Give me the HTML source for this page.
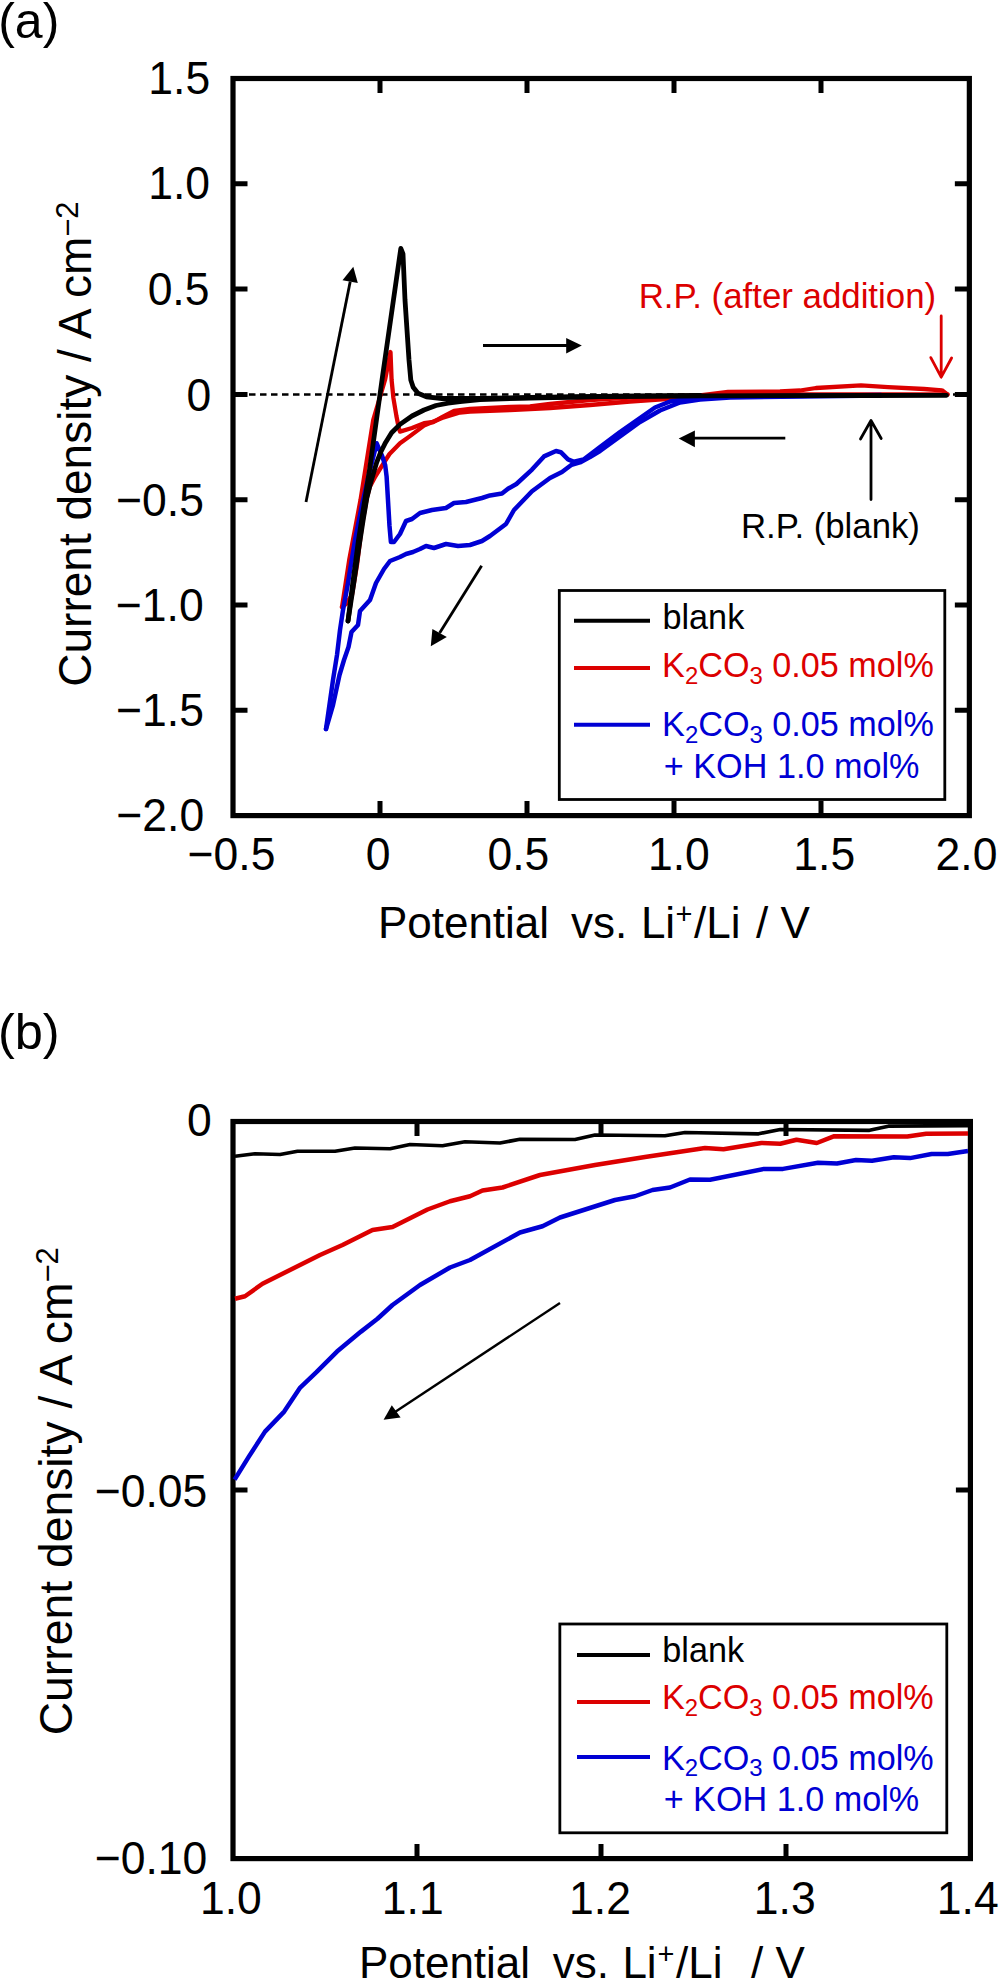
<!DOCTYPE html>
<html><head><meta charset="utf-8">
<style>
html,body{margin:0;padding:0;background:#fff;overflow:hidden;}
svg{display:block;}
text{font-family:"Liberation Sans", sans-serif;}
</style></head>
<body>
<svg width="1000" height="1981" viewBox="0 0 1000 1981">
<rect width="1000" height="1981" fill="#fff"/>
<text transform="translate(-1.80 38.40) scale(1 1.0)" font-size="50">(a)</text>
<text transform="translate(148.31 94.00) scale(1 1.05)" font-size="44.5">1.5</text>
<text transform="translate(148.24 199.00) scale(1 1.05)" font-size="44.5">1.0</text>
<text transform="translate(147.63 304.50) scale(1 1.05)" font-size="44.5">0.5</text>
<text transform="translate(186.53 410.50) scale(1 1.05)" font-size="44.5">0</text>
<text transform="translate(116.11 515.50) scale(1 1.05)" font-size="44.5">−0.5</text>
<text transform="translate(115.85 620.50) scale(1 1.05)" font-size="44.5">−1.0</text>
<text transform="translate(116.11 725.50) scale(1 1.05)" font-size="44.5">−1.5</text>
<text transform="translate(116.35 831.00) scale(1 1.05)" font-size="44.5">−2.0</text>
<text transform="translate(187.61 870.00) scale(1 1.05)" font-size="44.5">−0.5</text>
<text transform="translate(365.63 870.00) scale(1 1.05)" font-size="44.5">0</text>
<text transform="translate(487.43 870.00) scale(1 1.05)" font-size="44.5">0.5</text>
<text transform="translate(647.94 870.00) scale(1 1.05)" font-size="44.5">1.0</text>
<text transform="translate(793.31 870.00) scale(1 1.05)" font-size="44.5">1.5</text>
<text transform="translate(935.62 870.00) scale(1 1.05)" font-size="44.5">2.0</text>
<text transform="translate(377.89 938.00) scale(1 1.0)" font-size="44">Potential</text>
<text transform="translate(571.05 938.00) scale(1 1.0)" font-size="44">vs.</text>
<text transform="translate(640.89 938.00) scale(1 1.0)" font-size="44">Li</text>
<text transform="translate(675.48 923.50) scale(1 1.0)" font-size="29">+</text>
<text transform="translate(694.00 938.00) scale(1 1.0)" font-size="44">/Li</text>
<text transform="translate(756.00 938.00) scale(1 1.0)" font-size="44">/ V</text>
<g transform="translate(90.9 684.4) rotate(-90)"><text x="-2.34" y="0" font-size="46">Current density / A cm<tspan font-size="31" dy="-13.3">−2</tspan></text></g>
<g stroke="#000" fill="none">
<rect x="233" y="78.5" width="736.35" height="737.1" stroke-width="5.2"/>
<path stroke-width="5" d="M380 815.6v-14.5M380 78.5v14.5M527 815.6v-14.5M527 78.5v14.5M674 815.6v-14.5M674 78.5v14.5M821 815.6v-14.5M821 78.5v14.5M233 183.8h14.5M969.35 183.8h-14.5M233 289.1h14.5M969.35 289.1h-14.5M233 394.4h14.5M969.35 394.4h-14.5M233 499.7h14.5M969.35 499.7h-14.5M233 605h14.5M969.35 605h-14.5M233 710.3h14.5M969.35 710.3h-14.5"/>
</g>
<line x1="249" y1="394.5" x2="955" y2="394.5" stroke="#000" stroke-width="2.4" stroke-dasharray="6.5 4.5"/>
<g fill="none" stroke-linejoin="round" stroke-linecap="round">
<path d="M947.6 394.5 L940 394.5 L880 394.5 L800 394.5 L728 395 L700 397 L666 399 L630 401.5 L590 405 L550 408 L530 409 L510 410 L470 411.5 L460 412.5 L442 418 L424 425.6 L409.6 436.4 L400 443.3 L389.5 454 L382.4 465.2 L375.3 476.5 L369.7 487.1 L366.9 497.7 L362 525 L357 565 L352 595 L346 604 L342 607" stroke="#dc0000" stroke-width="4.3"/>
<path d="M342 607 L349.2 560 L360.5 500 L373.2 420 L385 380 L390.5 352 L391.6 380 L393.4 398 L396.4 416 L398.8 428 L400 431.6 L412 428 L424 423.2 L433.6 422 L442 417.2 L454 411 L470 409 L510 407 L530 406.5 L550 404 L590 400 L630 397.5 L666 396.5 L700 395.5 L728 392 L780 391.5 L800 390.5 L816 388 L861 385.4 L888 387.2 L924 389 L942 390.3 L947.4 394.4" stroke="#dc0000" stroke-width="4.3"/>
<path d="M881 395.5 L730 397.5 L700 399.5 L680 402.5 L660 410.5 L640 422 L620 436.5 L600 451 L590 457 L580 462.4 L571.6 464.8 L562 472 L550 478 L532 491.2 L514 510 L506 524 L490 536 L482 541 L470 545 L458 546 L446 544 L434 548 L426 546 L420 549 L413 552 L406 554 L400 557 L390 561 L384 569 L376 583 L370 600 L360 611 L358 625 L351.5 632 L348.5 647 L344 660 L339.5 675 L333 705 L326 729" stroke="#0000d4" stroke-width="4.5"/>
<path d="M326 729 L333 680 L337 655 L340 630 L343 610 L348 583 L355 540 L362 505 L370 470 L376.7 443.3 L382.4 456.7 L385.2 465.2 L386.6 476.5 L389.5 526 L390.9 542 L394 542 L400 534 L406 521 L412 519 L420 513 L432 510 L446 508 L454 503 L466 502 L482 498 L490 495.4 L502 493.6 L508 488.8 L516.4 484 L532 469.6 L544 456.4 L556 451 L560.8 452.2 L568 459.4 L574 461.8 L583.6 459.5 L600 447 L620 432 L640 418 L655 407.5 L670 401.5 L690 398.5 L730 396.5 L881 395" stroke="#0000d4" stroke-width="4.5"/>
<path d="M946.5 395.3 L870 395.5 L700 395.8 L600 396.5 L530 398 L480 399.5 L460 401.5 L448 403.2 L436 405.5 L424 410 L412 416 L400 424.4 L391.6 432.8 L385.6 442.4 L380.8 452 L376.7 462.4 L370.4 483.6 L366.9 497.7 L363.3 519 L359 547 L353.5 585 L348 621" stroke="#000" stroke-width="4.8"/>
<path d="M348 621 L352.5 585 L358.5 540 L369.5 470 L382 380 L400.8 248.5 L403 254 L405 300 L409 360 L410.8 380 L413.2 387.2 L418 393.2 L426.4 396.8 L442 398.5 L480 398.5 L530 397.5 L600 396.5 L700 395.5" stroke="#000" stroke-width="4.8"/>
</g>
<g stroke="#000" stroke-width="2.8" fill="#000">
<line x1="306" y1="502" x2="350.2" y2="281.6"/><polygon stroke="none" points="353.3,266.8 342.5,280.3 357.8,283"/>
<line x1="481.6" y1="565.8" x2="439.6" y2="633"/><polygon stroke="none" points="430.8,646.2 432.4,629 446.8,637"/>
<line x1="483" y1="345.5" x2="567" y2="345.5"/><polygon stroke="none" points="581.8,345.5 566.2,338 566.2,353.6"/>
<line x1="785.3" y1="438.2" x2="694" y2="438.2"/><polygon stroke="none" points="678.7,438.6 694.9,430.4 694.9,447.3"/>
<path fill="none" stroke-linecap="round" stroke-linejoin="round" d="M871 499.5V421M860.5 439L871 420.5L881.2 438.5"/>
</g>
<path fill="none" stroke="#dc0000" stroke-width="2.8" stroke-linecap="round" stroke-linejoin="round" d="M941.2 316V376M930.8 357.6L941.2 377.2L951.6 358"/>
<rect x="559.3" y="590.5" width="385.5" height="209" fill="#fff" stroke="#000" stroke-width="2.8"/>
<g stroke-width="4"><line x1="574" y1="620.8" x2="650" y2="620.8" stroke="#000"/><line x1="574" y1="667.9" x2="650" y2="667.9" stroke="#dc0000"/><line x1="574" y1="724.7" x2="650" y2="724.7" stroke="#0000d4"/></g>
<text transform="translate(662.50 628.70) scale(1 1.0)" font-size="34.2">blank</text>
<text x="662.09" y="677.00" font-size="34.2" fill="#dc0000">K</text>
<text x="684.91" y="683.50" font-size="23.94" fill="#dc0000">2</text>
<text x="698.22" y="677.00" font-size="34.2" fill="#dc0000">CO</text>
<text x="749.52" y="683.50" font-size="23.94" fill="#dc0000">3</text>
<text x="762.83" y="677.00" font-size="34.2" fill="#dc0000" xml:space="preserve"> 0.05 mol%</text>
<text x="662.09" y="736.00" font-size="34.2" fill="#0000d4">K</text>
<text x="684.91" y="742.50" font-size="23.94" fill="#0000d4">2</text>
<text x="698.22" y="736.00" font-size="34.2" fill="#0000d4">CO</text>
<text x="749.52" y="742.50" font-size="23.94" fill="#0000d4">3</text>
<text x="762.83" y="736.00" font-size="34.2" fill="#0000d4" xml:space="preserve"> 0.05 mol%</text>
<text transform="translate(663.83 778.00) scale(1 1.0)" font-size="34.2" fill="#0000d4">+ KOH 1.0 mol%</text>
<text transform="translate(638.64 308.00) scale(1 1.0)" font-size="34.85" fill="#dc0000">R.P. (after addition)</text>
<text transform="translate(740.95 537.60) scale(1 1.0)" font-size="34.75">R.P. (blank)</text>
<text transform="translate(-2.03 1049.30) scale(1 1.0)" font-size="50.5">(b)</text>
<text transform="translate(187.03 1136.30) scale(1 1.05)" font-size="44.5">0</text>
<text transform="translate(94.79 1506.50) scale(1 1.05)" font-size="44.5">−0.05</text>
<text transform="translate(94.72 1874.30) scale(1 1.05)" font-size="44.5">−0.10</text>
<text transform="translate(199.99 1913.50) scale(1 1.05)" font-size="44.5">1.0</text>
<text transform="translate(381.86 1913.50) scale(1 1.05)" font-size="44.5">1.1</text>
<text transform="translate(569.09 1913.50) scale(1 1.05)" font-size="44.5">1.2</text>
<text transform="translate(753.85 1913.50) scale(1 1.05)" font-size="44.5">1.3</text>
<text transform="translate(936.78 1913.50) scale(1 1.05)" font-size="44.5">1.4</text>
<text transform="translate(358.89 1977.50) scale(1 1.0)" font-size="44">Potential</text>
<text transform="translate(552.85 1978.00) scale(1 1.0)" font-size="44">vs.</text>
<text transform="translate(622.39 1978.00) scale(1 1.0)" font-size="44">Li</text>
<text transform="translate(657.58 1963.50) scale(1 1.0)" font-size="29">+</text>
<text transform="translate(676.00 1978.00) scale(1 1.0)" font-size="44">/Li</text>
<text transform="translate(751.00 1978.00) scale(1 1.0)" font-size="44">/ V</text>
<g transform="translate(71.5 1733) rotate(-90)"><text x="-2.35" y="0" font-size="46.3">Current density / A cm<tspan font-size="31" dy="-13.3">−2</tspan></text></g>
<g stroke="#000" fill="none">
<rect x="233" y="1121.5" width="737.4" height="737.1" stroke-width="5.2"/>
<path stroke-width="5" d="M417 1858.6v-14.5M417 1121.5v14.5M601 1858.6v-14.5M601 1121.5v14.5M786 1858.6v-14.5M786 1121.5v14.5M233 1489.9h14.5M970.4 1489.9h-14.5"/>
</g>
<g fill="none" stroke-linejoin="round" stroke-linecap="butt">
<path d="M235 1156.25 L255 1153.75 L280 1154.5 L297.5 1151.25 L335 1151.25 L355 1148 L390 1148.75 L410 1144.5 L442.5 1145.75 L465 1141.75 L500 1143 L520 1139.25 L575 1139.5 L595 1135 L665 1135.75 L685 1132.5 L758.6 1133.8 L780.3 1129.5 L869.5 1130.3 L888.4 1126.2 L968 1125.7" stroke="#000" stroke-width="3.7"/>
<path d="M235 1298.75 L245 1296.25 L262.5 1283.75 L292.5 1268.75 L320 1255 L342.5 1245 L372.5 1230 L392.5 1227 L427.5 1209.5 L450 1201.25 L470 1196.25 L482.5 1190.5 L502.5 1187.5 L540 1175 L595 1165 L645 1157 L705 1148 L723.5 1149.2 L761.4 1143 L780.3 1143.8 L796.5 1139.7 L816.8 1143 L834.3 1136.2 L907.3 1136.5 L926.2 1133.8 L968 1133.5" stroke="#dc0000" stroke-width="4.5"/>
<path d="M234.6 1479.6 L249 1456.4 L265 1431.6 L284.2 1411.6 L300.2 1387.6 L316.2 1372.4 L337 1351.6 L361 1331.6 L377.5 1318.75 L392.5 1305 L420 1285 L450 1267.5 L470 1260 L520 1232.5 L542.5 1226.25 L560 1217.5 L615 1200 L635 1196.25 L652.5 1190 L670 1187.5 L690 1179.5 L710 1179.7 L764 1168.9 L783 1168.9 L818 1162.7 L837 1163.5 L856 1160 L872 1160.8 L893.8 1157.3 L910 1158.1 L931.6 1154 L947.8 1154 L968 1151" stroke="#0000d4" stroke-width="4.5"/>
</g>
<line x1="560" y1="1303" x2="395" y2="1412" stroke="#000" stroke-width="2.4"/><polygon points="383.6,1419.8 391.8,1405.2 400.6,1417.6" fill="#000"/>
<rect x="559.85" y="1624" width="386.95" height="208.8" fill="#fff" stroke="#000" stroke-width="2.8"/>
<g stroke-width="4"><line x1="577" y1="1654.9" x2="650" y2="1654.9" stroke="#000"/><line x1="577" y1="1702" x2="650" y2="1702" stroke="#dc0000"/><line x1="577" y1="1757" x2="650" y2="1757" stroke="#0000d4"/></g>
<text transform="translate(662.30 1661.60) scale(1 1.0)" font-size="34.2">blank</text>
<text x="661.89" y="1709.00" font-size="34.2" fill="#dc0000">K</text>
<text x="684.71" y="1715.50" font-size="23.94" fill="#dc0000">2</text>
<text x="698.02" y="1709.00" font-size="34.2" fill="#dc0000">CO</text>
<text x="749.32" y="1715.50" font-size="23.94" fill="#dc0000">3</text>
<text x="762.63" y="1709.00" font-size="34.2" fill="#dc0000" xml:space="preserve"> 0.05 mol%</text>
<text x="661.89" y="1769.60" font-size="34.2" fill="#0000d4">K</text>
<text x="684.71" y="1776.10" font-size="23.94" fill="#0000d4">2</text>
<text x="698.02" y="1769.60" font-size="34.2" fill="#0000d4">CO</text>
<text x="749.32" y="1776.10" font-size="23.94" fill="#0000d4">3</text>
<text x="762.63" y="1769.60" font-size="34.2" fill="#0000d4" xml:space="preserve"> 0.05 mol%</text>
<text transform="translate(663.63 1811.00) scale(1 1.0)" font-size="34.2" fill="#0000d4">+ KOH 1.0 mol%</text>
</svg>
</body></html>
